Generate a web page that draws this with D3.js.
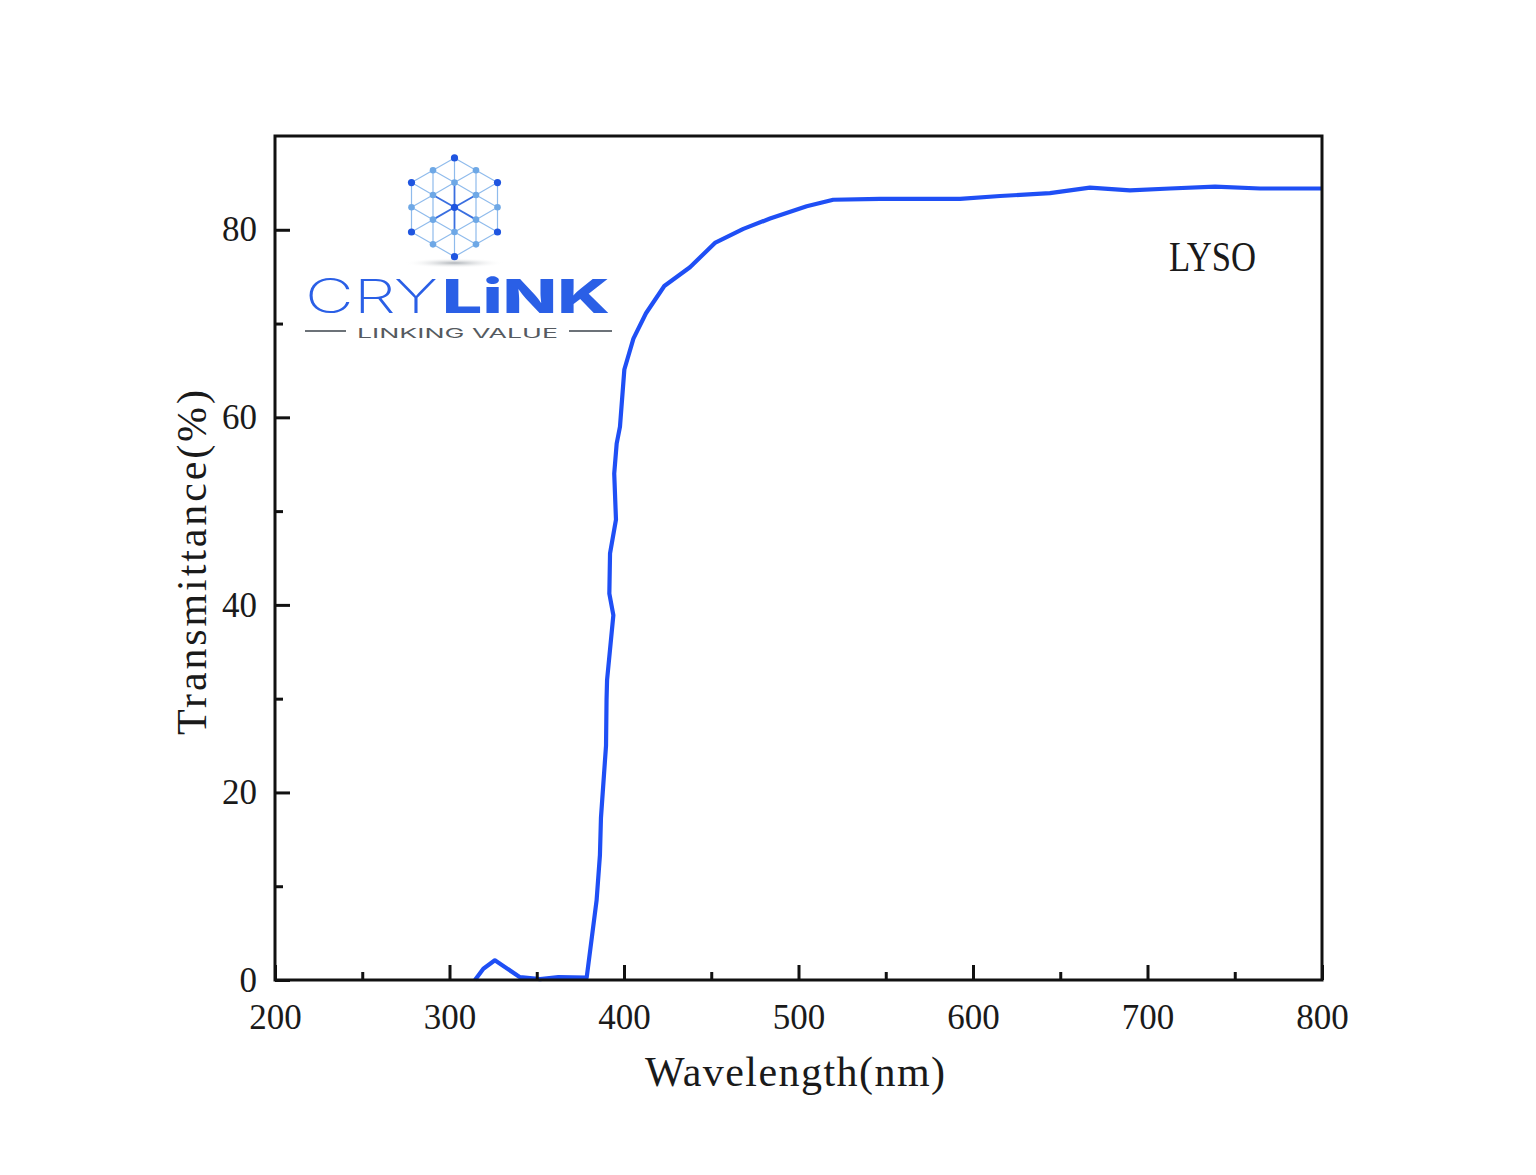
<!DOCTYPE html>
<html><head><meta charset="utf-8">
<script src="https://cdn.jsdelivr.net/npm/d3@7"></script>
<style>html,body{margin:0;padding:0;background:#fff;}svg{display:block;}</style>
</head><body>
<script>
const wavelength = [314.6,319.4,326,340.4,351.9,362.4,378.6,384.3,386.2,386.8,389.7,390,390.3,393.9,391.6,392,395.4,394.4,395.8,397.7,400.2,405.4,412.6,423.1,437.8,452.1,468.4,483.7,504.7,519.9,546.7,592.6,615.5,644.1,667,689.9,712.9,738.7,764.5,800];
const transmittance = [0,1.2,2.1,0.3,0.1,0.3,0.25,8.5,13.3,17.3,25,29.9,32,38.9,41.2,45.5,49.1,54,57.2,59,65.1,68.4,71.1,74.0,76.0,78.6,80.1,81.2,82.5,83.2,83.3,83.3,83.6,83.9,84.5,84.2,84.4,84.6,84.4,84.4];
const xTicks = [200,300,400,500,600,700,800];
const xMinor = [250,350,450,550,650,750];
const yTicks = [0,20,40,60,80];
const yMinor = [10,30,50,70];
const xTitle = "Wavelength(nm)";
const yTitle = "Transmittance(%)";
const seriesLabel = "LYSO";

const W = 1536, H = 1175;
const M = {left:275, right:1322, top:136, bottom:980};
const svg = d3.select("body").append("svg").attr("width",W).attr("height",H);
const x = d3.scaleLinear().domain([200,800]).range([M.left,M.right]);
const y = d3.scaleLinear().domain([0,90]).range([M.bottom,M.top]);

// logo
const logo = svg.append("g");
const cx = 454.5, cy = 207.3, dx = 21.5, dy = 12.35;
const nodes = [];
for (let k=-2;k<=2;k++){
  for (let r=-4;r<=4;r++){
    if ((Math.abs(k)+Math.abs(r))%2!==0) continue;
    if (Math.abs(r) > 4-Math.abs(k)) continue;
    nodes.push({k,r,x:cx+k*dx,y:cy+r*dy});
  }
}
const isDark = n => (n.k===0&&n.r===0)||(n.k===0&&Math.abs(n.r)===4)||(Math.abs(n.k)===2&&Math.abs(n.r)===2);
const isCenter = n => n.k===0&&n.r===0;
const edges=[];
nodes.forEach((a,i)=>nodes.forEach((b,j)=>{ if(j<=i) return;
  const dk=Math.abs(a.k-b.k), dr=Math.abs(a.r-b.r);
  if ((dk===0&&dr===2)||(dk===1&&dr===1)) edges.push([a,b]);
}));
const defs = svg.append("defs");
const sh = defs.append("radialGradient").attr("id","shadow");
sh.append("stop").attr("offset","0%").attr("stop-color","#9aa0a6").attr("stop-opacity",0.8);
sh.append("stop").attr("offset","100%").attr("stop-color","#ffffff").attr("stop-opacity",0);
logo.append("ellipse").attr("cx",cx).attr("cy",263).attr("rx",50).attr("ry",5).attr("fill","url(#shadow)");
logo.selectAll("line.e").data(edges).join("line")
  .attr("x1",d=>d[0].x).attr("y1",d=>d[0].y).attr("x2",d=>d[1].x).attr("y2",d=>d[1].y)
  .attr("stroke",d=>(isCenter(d[0])||isCenter(d[1]))?"#3a6fe0":"#8fbbec")
  .attr("stroke-width",d=>(isCenter(d[0])||isCenter(d[1]))?1.8:1.2);
logo.selectAll("circle.n").data(nodes).join("circle")
  .attr("cx",d=>d.x).attr("cy",d=>d.y).attr("r",d=>isDark(d)?3.6:3.3)
  .attr("fill",d=>isDark(d)?"#1f55e0":"#6ea8e6");
logo.append("text").attr("x",305).attr("y",313).attr("font-family","Inter, 'Open Sans', sans-serif")
  .attr("font-weight",200).attr("font-size",47).attr("fill","#2a5fe6")
  .attr("textLength",133).attr("lengthAdjust","spacingAndGlyphs").text("CRY");
logo.append("text").attr("x",442).attr("y",313).attr("font-family","Inter, 'Open Sans', sans-serif")
  .attr("font-weight",800).attr("font-size",47).attr("fill","#2a5fe6")
  .attr("textLength",168).attr("lengthAdjust","spacingAndGlyphs").text("LiNK");
logo.append("text").attr("x",357).attr("y",338).attr("font-family","Inter, 'Open Sans', sans-serif")
  .attr("font-weight",400).attr("font-size",13).attr("fill","#555a60")
  .attr("textLength",201).attr("lengthAdjust","spacingAndGlyphs").text("LINKING VALUE");
logo.append("line").attr("x1",305).attr("x2",346).attr("y1",331).attr("y2",331).attr("stroke","#6c7278").attr("stroke-width",1.8);
logo.append("line").attr("x1",569).attr("x2",612).attr("y1",331).attr("y2",331).attr("stroke","#6c7278").attr("stroke-width",1.8);

// curve
const line = d3.line().x((d,i)=>x(wavelength[i])).y(d=>y(d));
svg.append("path").datum(transmittance).attr("d",line)
  .attr("fill","none").attr("stroke","#1f4ff5").attr("stroke-width",4.2).attr("stroke-linejoin","round");

// axes (ticks inward)
const xa = svg.append("g").attr("transform",`translate(0,${M.bottom})`)
  .call(d3.axisBottom(x).tickValues(xTicks).tickSizeInner(-15).tickSizeOuter(0).tickPadding(24).tickFormat(d3.format("d")));
xa.selectAll(".tick line").attr("stroke","#111").attr("stroke-width",3);
xa.selectAll(".tick text").attr("font-family","'Liberation Serif', 'Times New Roman', serif").attr("font-size",35).attr("fill","#1a1a1a").attr("dy","0.72em");
xa.select(".domain").remove();
const xm = svg.append("g").attr("transform",`translate(0,${M.bottom})`)
  .call(d3.axisBottom(x).tickValues(xMinor).tickSizeInner(-8).tickSizeOuter(0).tickFormat(""));
xm.selectAll(".tick line").attr("stroke","#111").attr("stroke-width",3);
xm.select(".domain").remove();

const ya = svg.append("g").attr("transform",`translate(${M.left},0)`)
  .call(d3.axisLeft(y).tickValues(yTicks).tickSizeInner(-15).tickSizeOuter(0).tickPadding(18).tickFormat(d3.format("d")));
ya.selectAll(".tick line").attr("stroke","#111").attr("stroke-width",3);
ya.selectAll(".tick text").attr("font-family","'Liberation Serif', 'Times New Roman', serif").attr("font-size",35).attr("fill","#1a1a1a");
ya.select(".domain").remove();
const ym = svg.append("g").attr("transform",`translate(${M.left},0)`)
  .call(d3.axisLeft(y).tickValues(yMinor).tickSizeInner(-8).tickSizeOuter(0).tickFormat(""));
ym.selectAll(".tick line").attr("stroke","#111").attr("stroke-width",3);
ym.select(".domain").remove();

svg.append("rect").attr("x",M.left).attr("y",M.top).attr("width",M.right-M.left).attr("height",M.bottom-M.top)
  .attr("fill","none").attr("stroke","#111").attr("stroke-width",3);

// titles
svg.append("text").attr("x",645).attr("y",1086).attr("font-family","'Liberation Serif', serif")
  .attr("font-size",42).attr("fill","#1a1a1a").attr("textLength",300).attr("lengthAdjust","spacing").text(xTitle);
svg.append("text").attr("transform","translate(206,735) rotate(-90)").attr("font-family","'Liberation Serif', serif")
  .attr("font-size",42).attr("fill","#1a1a1a").attr("textLength",345).attr("lengthAdjust","spacing").text(yTitle);
svg.append("text").attr("x",1169).attr("y",271).attr("font-family","'Liberation Serif', serif")
  .attr("font-size",42).attr("fill","#1a1a1a").attr("textLength",87).attr("lengthAdjust","spacingAndGlyphs").text(seriesLabel);
</script>
</body></html>
